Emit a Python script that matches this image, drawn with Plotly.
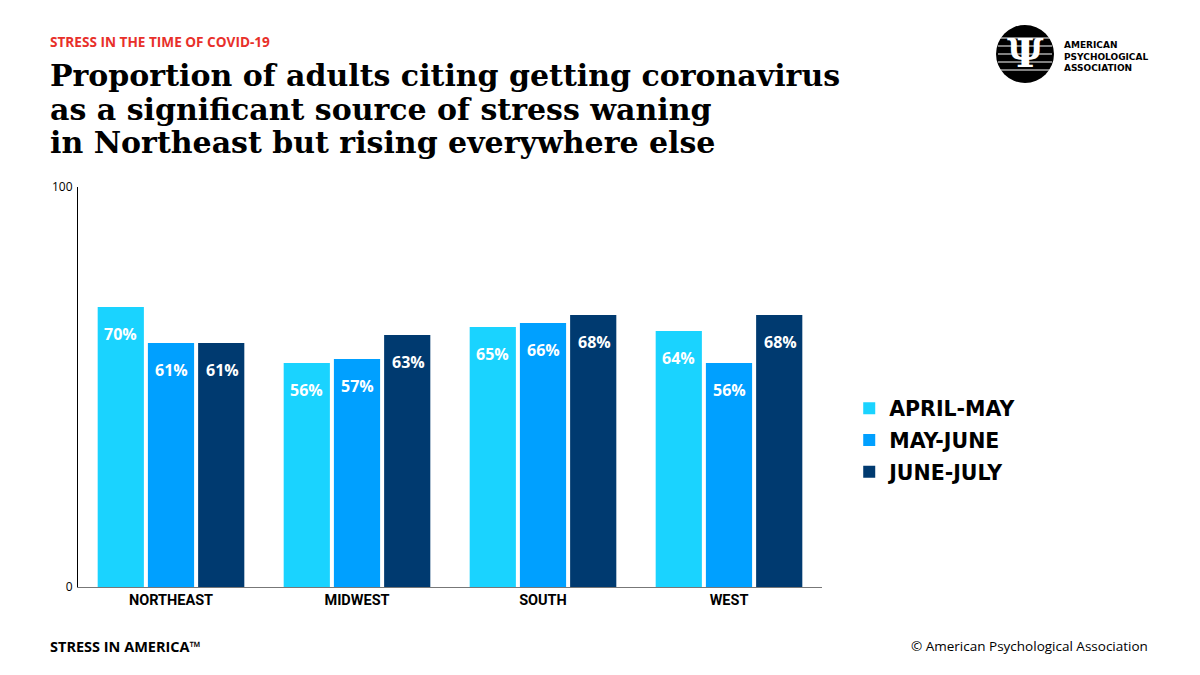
import plotly.graph_objects as go

regions = ["NORTHEAST", "MIDWEST", "SOUTH", "WEST"]
periods = ["APRIL-MAY", "MAY-JUNE", "JUNE-JULY"]
april_may = [70, 56, 65, 64]
may_june = [61, 57, 66, 56]
june_july = [61, 63, 68, 68]
series = [april_may, may_june, june_july]
colors = ["#1ad3ff", "#00a0ff", "#003a70"]
title_lines = [
    "Proportion of adults citing getting coronavirus",
    "as a significant source of stress waning",
    "in Northeast but rising everywhere else",
]
logo_lines = ["AMERICAN", "PSYCHOLOGICAL", "ASSOCIATION"]

W, H = 1200, 675
L, R, T, B = 78, 378, 187, 88
pw = W - L - R
ph = H - T - B


def px2paper(px, py):
    return (px - L) / pw, (H - B - py) / ph


fig = go.Figure()
for i, (name, vals, col) in enumerate(zip(periods, series, colors)):
    fig.add_trace(go.Bar(
        x=regions, y=vals, name=name, marker=dict(color=col, line=dict(width=0)),
        legendgroup=name, hoverinfo="skip",
    ))

# value labels inside bars near top
bar_step = 51
for i, vals in enumerate(series):
    for r, v in zip(regions, vals):
        fig.add_annotation(
            x=r, y=v, text=f"{v}%", showarrow=False, xref="x", yref="y",
            xshift=(i - 1) * bar_step, yshift=-27,
            font=dict(family="Open Sans", size=16, color="white", weight="bold"),
        )


def add_text(px, py, text, size, family, color="black", weight="normal", xanchor="left"):
    x, y = px2paper(px, py)
    fig.add_annotation(
        x=x, y=y, xref="paper", yref="paper", text=text, showarrow=False,
        xanchor=xanchor, yanchor="middle", align="left",
        font=dict(family=family, size=size, color=color, weight=weight),
    )


add_text(48, 42, "STRESS IN THE TIME OF COVID-19", 13.6, "Open Sans", "#e8302a", "bold")
for k, line in enumerate(title_lines):
    add_text(48, 76 + k * 33.5, line, 30, "DejaVu Serif", "black", "bold")
add_text(48, 646, "STRESS IN AMERICA\u2122", 14.5, "Open Sans", "black", "bold")
add_text(1150, 646, "\u00a9 American Psychological Association", 13.5, "Open Sans", "black", "normal", "right")
add_text(1062, 56, "<br>".join(logo_lines), 9, "DejaVu Sans", "black", "bold")
add_text(1025, 52, "\u03a8", 40, "DejaVu Serif", "white", "bold", "center")

fig.update_layout(
    width=W, height=H,
    paper_bgcolor="white", plot_bgcolor="white",
    margin=dict(l=L, r=R, t=T, b=B),
    barmode="group", bargap=0.19, bargroupgap=0.08,
    showlegend=True,
    legend=dict(
        x=1.0366, y=(H - B - 440) / ph, xanchor="left", yanchor="middle", xref="paper",
        font=dict(family="DejaVu Sans", size=20.5, color="black", weight="bold"),
        traceorder="grouped", tracegroupgap=2, itemclick=False,
        bgcolor="rgba(0,0,0,0)",
    ),
    font=dict(family="Open Sans"),
)
fig.update_xaxes(
    showline=True, linecolor="#777", linewidth=1, showgrid=False, ticks="",
    tickfont=dict(family="Roboto", size=14.5, color="black", weight="bold"),
    fixedrange=True,
)
fig.update_yaxes(
    range=[0, 100], tickvals=[0, 100], showline=True, linecolor="black", linewidth=1,
    showgrid=False, zeroline=False, ticks="", ticklabelstandoff=2,
    tickfont=dict(family="Open Sans", size=12, color="black"),
    fixedrange=True,
)

# logo circle with stripes
cx0, cy0 = px2paper(996, 25)
cx1, cy1 = px2paper(1054, 83)
shapes = [dict(type="circle", xref="paper", yref="paper", x0=cx0, y0=cy1, x1=cx1, y1=cy0,
               fillcolor="black", line=dict(width=0), layer="below")]
for yy in [38, 46, 54, 62, 70]:
    lx0, ly = px2paper(998, yy)
    lx1, _ = px2paper(1052, yy)
    shapes.append(dict(type="line", xref="paper", yref="paper", x0=lx0, x1=lx1, y0=ly, y1=ly,
                       line=dict(color="white", width=1.2), layer="above"))
fig.update_layout(shapes=shapes)

fig.write_html("out.html", config={"displayModeBar": False},
               post_script="document.body.style.margin='0';")
